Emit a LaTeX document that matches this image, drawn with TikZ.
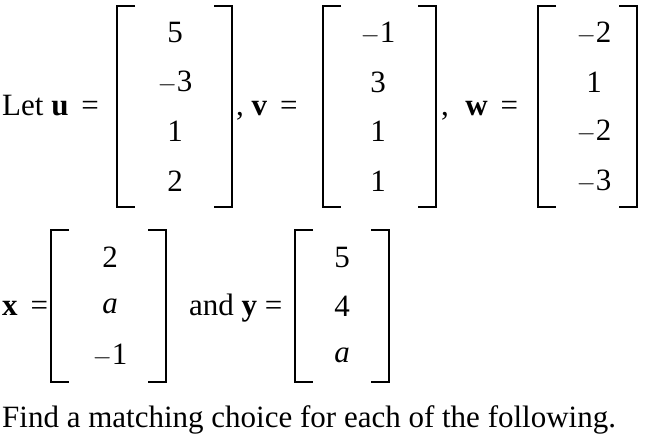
\documentclass[tikz,border=0pt]{standalone}
\usepackage{fontspec}
\setmainfont{Liberation Serif}
\begin{document}
\begin{tikzpicture}[x=1pt,y=-1pt,font=\fontsize{31}{36}\selectfont,
  br/.style={line width=1.8pt},
  t/.style={inner sep=0pt,anchor=center}]
\useasboundingbox (0,0) rectangle (660,439);
\newcommand\mybr[5]{% left right top bottom tick
  \draw[br] (#1+#5,#3)--(#1,#3)--(#1,#4)--(#1+#5,#4);
  \draw[br] (#2-#5,#3)--(#2,#3)--(#2,#4)--(#2-#5,#4);}
\mybr{117}{232}{6}{207}{18}
\mybr{323}{436}{6}{207}{18}
\mybr{538}{637}{6}{207}{18}
\mybr{51}{166}{230}{382}{18}
\mybr{295}{389}{230}{382}{18}
\node[t] (u1) at (175,33) {5};
\node[t] (u2) at (175,82) {$-$3};
\node[t] (u3) at (175,131) {1};
\node[t] (u4) at (175,181) {2};
\node[t] (v1) at (378,33) {$-$1};
\node[t] (v2) at (378,82) {3};
\node[t] (v3) at (378,131) {1};
\node[t] (v4) at (378,181) {1};
\node[t] (w1) at (594,33) {$-$2};
\node[t] (w2) at (594,82) {1};
\node[t] (w3) at (594,131) {$-$2};
\node[t] (w4) at (594,181) {$-$3};
\node[t] (x1) at (110,257) {2};
\node[t] (x2) at (110,306) {\itshape a};
\node[t] (x3) at (110,355) {$-$1};
\node[t] (y1) at (342,257) {5};
\node[t] (y2) at (342,306) {4};
\node[t] (y3) at (342,355) {\itshape a};
\node[inner sep=0pt,anchor=base west] (l1) at (2,115) {Let \textbf{u}\, =};
\node[inner sep=0pt,anchor=base west] (l2) at (236,115) {, \textbf{v}\, =};
\node[inner sep=0pt,anchor=base west] (l3) at (441,115) {,\; \textbf{w}\, =};
\node[inner sep=0pt,anchor=base west] (l4) at (2,315) {\textbf{x}\, =};
\node[inner sep=0pt,anchor=base west] (l5) at (189,315) {and \textbf{y} =};
\node[inner sep=0pt,anchor=base west] (l6) at (2,427) {Find a matching choice for each of the following.};
\end{tikzpicture}
\end{document}
